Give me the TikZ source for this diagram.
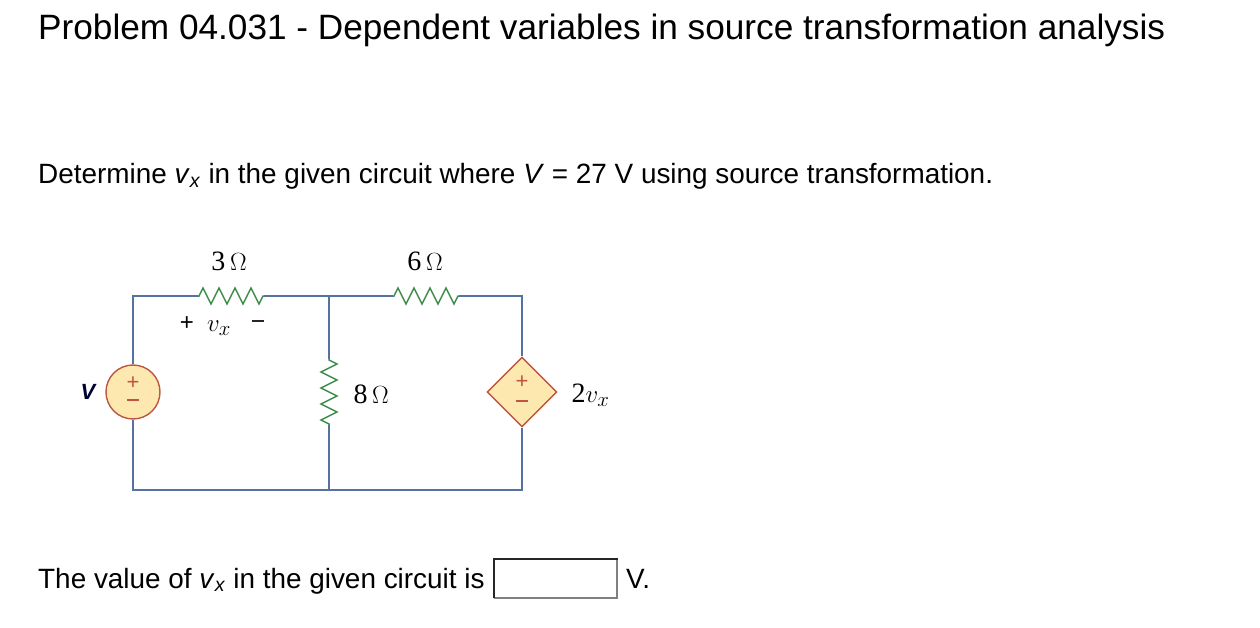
\documentclass[tikz,border=0pt]{standalone}
\usepackage{fontspec}
\setmainfont{Liberation Sans}
\newfontfamily\serifc{Liberation Serif}
\usetikzlibrary{decorations.pathmorphing,shapes.geometric}
\definecolor{wire}{RGB}{85,115,160}
\definecolor{resg}{RGB}{60,140,75}
\definecolor{srcf}{RGB}{253,232,175}
\definecolor{srcb}{RGB}{190,85,65}
\tikzset{
 w/.style={draw=wire,line width=1.4pt},
 res/.style={draw=resg,line width=1.5pt,decorate,decoration={zigzag,segment length=16pt,amplitude=8pt,pre length=1pt,post length=1pt}},
 clab/.style={font=\serifc\fontsize{28}{28}\selectfont},
 txt/.style={font=\fontsize{27.9}{32}\selectfont,anchor=base west,inner sep=0},
}
\begin{document}
\begin{tikzpicture}[x=1pt,y=-1pt]
\useasboundingbox (0,0) rectangle (1260,628);
\node[anchor=base west,inner sep=0,font=\fontsize{35.2}{38}\selectfont] (title) at (38,40) {Problem 04.031 - Dependent variables in source transformation analysis};
\node[txt] (q) at (38,184) {Determine \textit{v}\textsubscript{\textit{x}} in the given circuit where \textit{V} = 27 V using source transformation.};
% nodes
\coordinate (tl) at (133,296); \coordinate (tm) at (329,296); \coordinate (tr) at (522,296);
\coordinate (bl) at (133,490); \coordinate (bm) at (329,490); \coordinate (br) at (522,490);
\coordinate (r1a) at (198,296); \coordinate (r1b) at (264,296);
\coordinate (r2a) at (393,296); \coordinate (r2b) at (459,296);
\coordinate (r3a) at (329,359); \coordinate (r3b) at (329,425);
\node[circle,draw=srcb,fill=srcf,line width=1.4pt,minimum size=54pt,inner sep=0] (vs) at (133,392) {};
\node[diamond,draw=srcb,fill=srcf,line width=1.4pt,minimum size=70pt,inner sep=0] (ds) at (522,392) {};
\draw[w] (vs.north) -- (tl) -- (r1a);
\draw[w] (r1b) -- (r2a); \draw[w] (r2b) -- (tr) -- (ds.north);
\draw[w] (vs.south) -- (bl) -- (br) -- (ds.south);
\draw[w] (tm) -- (r3a); \draw[w] (r3b) -- (bm);
\draw[res] (r1a) -- (r1b);
\draw[res] (r2a) -- (r2b);
\draw[res] (r3a) -- (r3b);
% signs
\node[font=\fontsize{22}{22}\selectfont,text=srcb,inner sep=0] (vp) at (133,383) {+};
\draw[srcb,line width=1.4pt] (127,400) -- (139,400);
\node[font=\fontsize{22}{22}\selectfont,text=srcb,inner sep=0] (dp) at (522,382) {+};
\draw[srcb,line width=1.4pt] (516,401) -- (528,401);
% labels
\node[clab] (l3) at (229,261) {3\,$\Omega$};
\node[clab] (l6) at (425,261) {6\,$\Omega$};
\node[clab,anchor=west] (l8) at (350,394) {8\,$\Omega$};
\node[font=\fontsize{24}{24}\selectfont] (pl) at (187,324) {+};
\node[clab] (vx) at (219,328) {$v_x$};
\draw[black!85,line width=1.6pt] (252,321) -- (264,321);
\node[clab,anchor=west] (l2) at (568,395) {2$v_x$};
\node[font=\bfseries\itshape\fontsize{22}{22}\selectfont,text=black!80!blue] (lv) at (88,392) {V};
% answer line
\node[txt] (a) at (38,588) {The value of \textit{v}\textsubscript{\textit{x}} in the given circuit is};
\draw[gray,line width=2pt] (617,559) -- (617,598) -- (494,598);
\draw[black!85,line width=2pt] (494,598) -- (494,559) -- (618,559);
\node[txt] (u) at (626,588) {V.};
\end{tikzpicture}
\end{document}
